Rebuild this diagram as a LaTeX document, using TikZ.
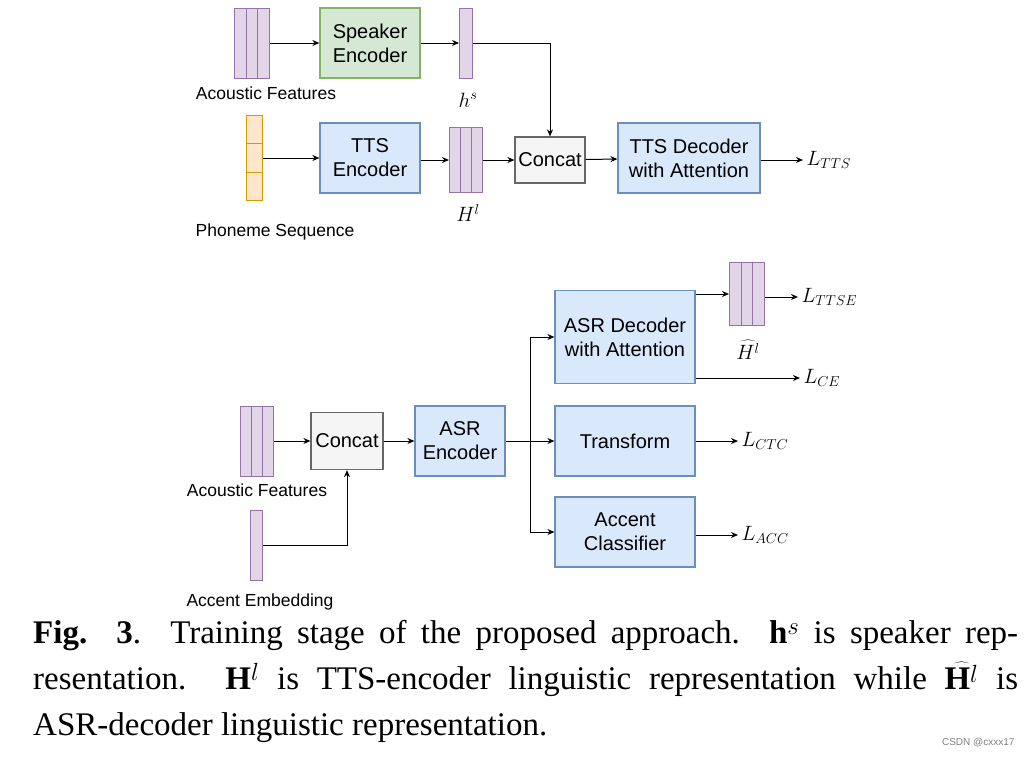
\documentclass[tikz,border=0pt]{standalone}
\usepackage{fontspec}
\setmainfont{Liberation Serif}
\newfontfamily\sansf{Liberation Sans}
\usetikzlibrary{calc,arrows.meta}
\definecolor{gF}{RGB}{213,232,212}\definecolor{gD}{RGB}{130,179,102}
\definecolor{bF}{RGB}{218,232,252}\definecolor{bD}{RGB}{108,142,191}
\definecolor{yF}{RGB}{245,245,245}\definecolor{yD}{RGB}{102,102,102}
\definecolor{pF}{RGB}{225,213,231}\definecolor{pD}{RGB}{150,115,166}
\definecolor{oF}{RGB}{255,230,204}\definecolor{oD}{RGB}{215,155,0}
\begin{document}
\begin{tikzpicture}[x=1pt,y=-1pt,
  box/.style={line width=1.2pt, font=\sansf\fontsize{20}{24}\selectfont, align=center, inner sep=0pt},
  green/.style={box, fill=gF, draw=gD},
  blue/.style={box, fill=bF, draw=bD},
  gray/.style={box, fill=yF, draw=yD},
  vec3/.style={draw=pD, fill=pF, line width=1pt, inner sep=0pt,
    path picture={\draw[pD, line width=1pt]
      ($(path picture bounding box.north west)!1/3!(path picture bounding box.north east)$) -- ($(path picture bounding box.south west)!1/3!(path picture bounding box.south east)$)
      ($(path picture bounding box.north west)!2/3!(path picture bounding box.north east)$) -- ($(path picture bounding box.south west)!2/3!(path picture bounding box.south east)$);}},
  vec1/.style={draw=pD, fill=pF, line width=1pt, inner sep=0pt},
  lab/.style={font=\sansf\fontsize{17.5}{20}\selectfont},
  ml/.style={font=\fontsize{22}{24}\selectfont},
  arr/.style={-{Stealth[length=7pt,width=6pt]}, line width=1pt},
  ln/.style={line width=1pt}]
\useasboundingbox (0,0) rectangle (1026,756);
% top
\node[vec3, minimum width=35, minimum height=70] (af1) at (252,43) {};
\node[lab] (af1l) at (266,93) {Acoustic Features};
\node[green, minimum width=100, minimum height=70] (spk) at (370,43) {Speaker\\Encoder};
\node[vec1, minimum width=13, minimum height=70] (hs) at (466,43) {};
\node[ml] (hsl) at (468,100) {$h^s$};
\node[draw=oD, fill=oF, line width=1pt, minimum width=16, minimum height=85, inner sep=0pt,
  path picture={\draw[oD,line width=1pt] ($(path picture bounding box.north west)!1/3!(path picture bounding box.south west)$) -- ($(path picture bounding box.north east)!1/3!(path picture bounding box.south east)$) ($(path picture bounding box.north west)!2/3!(path picture bounding box.south west)$) -- ($(path picture bounding box.north east)!2/3!(path picture bounding box.south east)$);}] (ph) at (254,158) {};
\node[lab] (phl) at (275,232) {Phoneme Sequence};
\node[blue, minimum width=100, minimum height=70] (tenc) at (370,158) {TTS\\Encoder};
\node[vec3, minimum width=33, minimum height=65] (hl) at (466,160) {};
\node[ml] (hll) at (468,213) {$H^l$};
\node[gray, minimum width=70, minimum height=46] (cc1) at (550,160) {Concat};
\node[blue, minimum width=142, minimum height=70] (tdec) at (689,158) {TTS Decoder\\with Attention};
\node[ml, anchor=west] (ltts) at (803,160) {$L_{TTS}$};
\draw[arr] (af1) -- (spk);
\draw[arr] (spk) -- (hs);
\draw[arr] (hs.east) -- (cc1.north |- hs.east) -- (cc1.north);
\draw[arr] (ph.east |- tenc.west) -- (tenc);
\draw[arr] (tenc.east |- hl.west) -- (hl);
\draw[arr] (hl) -- (cc1);
\draw[arr] (cc1) -- (tdec);
\draw[arr] (tdec.east |- ltts.west) -- (ltts.west);
% bottom
\node[vec3, minimum width=33, minimum height=70] (af2) at (257,441) {};
\node[lab] (af2l) at (257,490) {Acoustic Features};
\node[vec1, minimum width=12, minimum height=70] (ae) at (256,545) {};
\node[lab] (ael) at (260,602) {Accent Embedding};
\node[gray, minimum width=72, minimum height=57] (cc2) at (347,441) {Concat};
\node[blue, minimum width=90, minimum height=70] (aenc) at (460,441) {ASR\\Encoder};
\node[blue, minimum width=140, minimum height=93] (adec) at (625,337) {ASR Decoder\\with Attention};
\node[blue, minimum width=140, minimum height=70] (tr) at (625,441) {Transform};
\node[blue, minimum width=140, minimum height=70] (acc) at (625,532) {Accent\\Classifier};
\node[vec3, minimum width=35, minimum height=63] (hh) at (747,294) {};
\node[ml] (hhl) at (748,350) {$\widehat{H^l}$};
\node[ml, anchor=west] (ltse) at (798,297) {$L_{TTSE}$};
\node[ml, anchor=west] (lce) at (800,378) {$L_{CE}$};
\node[ml, anchor=west] (lctc) at (738,441) {$L_{CTC}$};
\node[ml, anchor=west] (lacc) at (738,535) {$L_{ACC}$};
\coordinate (sp) at (530,441);
\draw[arr] (af2) -- (cc2);
\draw[arr] (ae.east) -- (cc2.south |- ae.east) -- (cc2.south);
\draw[arr] (cc2) -- (aenc);
\draw[ln] (aenc.east) -- (sp);
\draw[arr] (sp |- adec.west) -- (adec.west);
\draw[ln] (sp |- adec.west) -- (sp |- acc.west);
\draw[arr] (sp) -- (tr.west);
\draw[arr] (sp |- acc.west) -- (acc.west);
\draw[arr] (adec.east |- hh.west) -- (hh.west);
\draw[arr] (hh.east |- ltse.west) -- (ltse.west);
\draw[arr] (adec.east |- lce.west) -- (lce.west);
\draw[arr] (tr.east |- lctc.west) -- (lctc.west);
\draw[arr] (acc.east |- lacc.west) -- (lacc.west);
% caption
\node[anchor=north west, text width=985, align=justify, inner sep=0pt, font=\fontsize{33}{46}\selectfont] (cap) at (33,620)
{\textbf{Fig. 3}. Training stage of the proposed approach. $\mathbf{h}^s$ is speaker rep-\linebreak resentation. $\mathbf{H}^l$ is TTS-encoder linguistic representation while $\widehat{\mathbf{H}^l}$ is\linebreak ASR-decoder linguistic representation.};
\node[font=\sansf\fontsize{10}{12}\selectfont, text=gray, anchor=east] (wm) at (1018,743) {CSDN @cxxx17};
\end{tikzpicture}
\end{document}
